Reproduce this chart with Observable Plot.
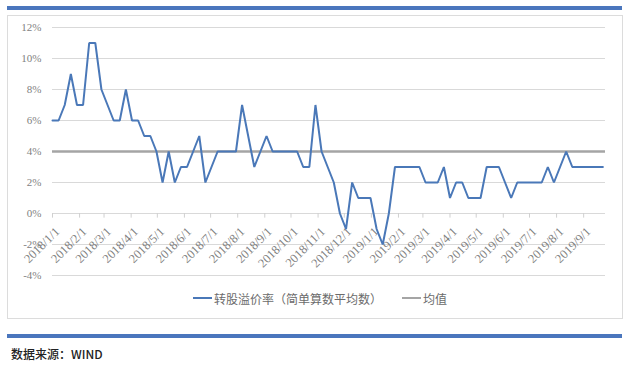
<!DOCTYPE html>
<html>
<head>
<meta charset="utf-8">
<script src="https://cdn.jsdelivr.net/npm/d3@7"></script>
<script src="https://cdn.jsdelivr.net/npm/@observablehq/plot@0.6"></script>
<style>
  html, body { margin: 0; padding: 0; background: #fff; }
  #wrap { position: relative; width: 640px; height: 365px; overflow: hidden; font-family: "Noto Sans CJK SC", sans-serif; }
  .bar { position: absolute; left: 7px; width: 615px; height: 4px; background: #4a76bd; }
  #frame { position: absolute; left: 7px; top: 15px; width: 614px; height: 302px; border: 1px solid #dcdcdc; }
  #chart { position: absolute; left: 0; top: 0; }
  #legend { position: absolute; left: 0; width: 640px; top: 289px; height: 18px; display: flex; justify-content: center; align-items: center; font-size: 12px; color: #6b6b6b; font-family: "Noto Sans CJK SC", sans-serif; }
  .item { display: flex; align-items: center; margin: 0 10px; }
  .sw { width: 19px; height: 2.5px; margin-right: 2px; }
  #src { position: absolute; left: 11px; top: 345px; font-size: 12px; color: #222; font-weight: 500; font-family: "Noto Sans CJK SC", sans-serif; }
</style>
</head>
<body>
<div id="wrap">
  <div class="bar" style="top:6px"></div>
  <div id="frame"></div>
  <div id="chart"></div>
  <div id="legend"></div>
  <div class="bar" style="top:334px"></div>
  <div id="src">数据来源：WIND</div>
</div>
<script>
// ---- data ----
const startDate = "2018-01-01"; // first weekly observation
const premium = [
  6, 6, 7, 9, 7, 7, 11, 11, 8, 7,
  6, 6, 8, 6, 6, 5, 5, 4, 2, 4,
  2, 3, 3, 4, 5, 2, 3, 4, 4, 4,
  4, 7, 5, 3, 4, 5, 4, 4, 4, 4,
  4, 3, 3, 7, 4, 3, 2, 0, -1, 2,
  1, 1, 1, -1, -2, 0, 3, 3, 3, 3,
  3, 2, 2, 2, 3, 1, 2, 2, 1, 1,
  1, 3, 3, 3, 2, 1, 2, 2, 2, 2,
  2, 3, 2, 3, 4, 3, 3, 3, 3, 3,
  3
];
const meanValue = 4;
const monthLabels = [
  "2018/1/1","2018/2/1","2018/3/1","2018/4/1","2018/5/1","2018/6/1","2018/7/1",
  "2018/8/1","2018/9/1","2018/10/1","2018/11/1","2018/12/1","2019/1/1","2019/2/1",
  "2019/3/1","2019/4/1","2019/5/1","2019/6/1","2019/7/1","2019/8/1","2019/9/1"
];
const yTicks = [-4, -2, 0, 2, 4, 6, 8, 10, 12];
const seriesName = "转股溢价率（简单算数平均数）";
const meanName = "均值";
const axisEnd = "2019-09-26";

// ---- build ----
const start = new Date(startDate + "T00:00:00");
const rows = premium.map((v, i) => ({ date: d3.timeWeek.offset(start, i), value: v }));
const months = monthLabels.map(s => { const [y, m, d] = s.split("/").map(Number); return new Date(y, m - 1, d); });

const blue = "#4a78b8";
const gray = "#a5a5a5";
const tickFont = "Liberation Serif, DejaVu Serif, serif";

const chart = Plot.plot({
  width: 640,
  height: 290,
  marginLeft: 52,
  marginRight: 35,
  marginTop: 27,
  marginBottom: 15,
  style: { background: "transparent", fontFamily: tickFont, overflow: "visible" },
  x: { type: "time", domain: [start, new Date(axisEnd + "T00:00:00")], axis: null },
  y: { domain: [-4, 12] },
  marks: [
    Plot.gridY(yTicks, { stroke: "#d9d9d9", strokeOpacity: 1, strokeWidth: 1 }),
    Plot.ruleX(months, { x: d => d, y1: 0, y2: -0.3, stroke: "#d0d0d0" }),
    Plot.axisY(yTicks, { tickSize: 0, tickPadding: 11, tickFormat: d => d + "%", fontSize: 11, fill: "#7f7f7f", label: null }),
    Plot.text(months, { x: d => d, y: 0, text: (d, i) => monthLabels[i], rotate: -45, textAnchor: "end", dx: 5, dy: 16, fontSize: 12.5, fill: "#7f7f7f", fontFamily: tickFont }),
    Plot.ruleY([meanValue], { stroke: gray, strokeWidth: 2.5 }),
    Plot.line(rows, { x: "date", y: "value", stroke: blue, strokeWidth: 2, strokeLinejoin: "miter" })
  ]
});
document.getElementById("chart").appendChild(chart);

const legend = document.getElementById("legend");
[[seriesName, blue], [meanName, gray]].forEach(([name, c]) => {
  const it = document.createElement("div");
  it.className = "item";
  it.innerHTML = `<span class="sw" style="background:${c}"></span><span>${name}</span>`;
  legend.appendChild(it);
});
</script>
</body>
</html>
